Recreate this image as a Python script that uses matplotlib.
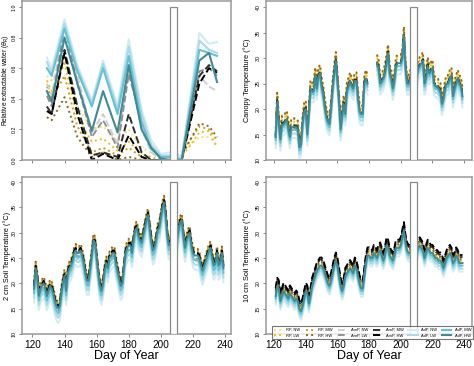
import numpy as np
import matplotlib
matplotlib.use("Agg")
import matplotlib.pyplot as plt
from matplotlib.lines import Line2D
from matplotlib.patches import Rectangle

plt.rcParams['font.family'] = ['Liberation Sans', 'DejaVu Sans']

# treatments: RP / AmP / AdP, each with NW, LW, MW, HW
labels = ["RP, NW", "RP, LW", "RP, MW", "RP, HW",
          "AmP, NW", "AmP, LW", "AmP, MW", "AmP, HW",
          "AdP, NW", "AdP, LW", "AdP, MW", "AdP, HW"]
colors = ["#f2e07a", "#e8c21c", "#d09a1c", "#8a6a1a",
          "#cccccc", "#8c8c8c", "#2e2e2e", "#000000",
          "#d3ecf3", "#a8dbe8", "#66c1d2", "#3f8a94"]
styles = [":", ":", ":", ":",
          "--", "--", "--", "--",
          "-", "-", "-", "-"]
widths = [1.4, 1.4, 1.4, 1.4,
          1.3, 1.3, 1.4, 1.4,
          1.5, 1.5, 1.5, 1.5]

# relative extractable water, measurement days
rew_days = [129, 132, 140, 148, 157, 164, 173, 180, 188, 194, 200, 206, 213, 224, 230, 235]
rew = [
    [0.55, 0.52, 0.65, 0.35, 0.20, 0.22, 0.12, 0.20, 0.08, 0.05, 0.02, 0.00, 0.05, 0.15, 0.15, 0.10],
    [0.52, 0.45, 0.63, 0.28, 0.12, 0.14, 0.06, 0.12, 0.04, 0.02, 0.00, 0.00, 0.02, 0.18, 0.19, 0.08],
    [0.48, 0.40, 0.55, 0.22, 0.05, 0.08, 0.03, 0.08, 0.02, 0.00, 0.00, 0.00, 0.05, 0.22, 0.20, 0.13],
    [0.28, 0.26, 0.41, 0.15, 0.02, 0.05, 0.00, 0.02, 0.00, 0.00, 0.00, 0.00, 0.03, 0.24, 0.22, 0.15],
    [0.50, 0.42, 0.90, 0.55, 0.18, 0.30, 0.10, 0.60, 0.20, 0.05, 0.00, 0.00, 0.00, 0.55, 0.48, 0.45],
    [0.42, 0.35, 0.88, 0.50, 0.15, 0.26, 0.08, 0.56, 0.25, 0.10, 0.00, 0.00, 0.00, 0.58, 0.60, 0.55],
    [0.35, 0.30, 0.72, 0.35, 0.03, 0.05, 0.02, 0.30, 0.05, 0.00, 0.00, 0.00, 0.00, 0.55, 0.62, 0.58],
    [0.32, 0.30, 0.70, 0.30, 0.00, 0.04, 0.00, 0.16, 0.02, 0.00, 0.00, 0.00, 0.00, 0.50, 0.60, 0.57],
    [0.67, 0.60, 0.92, 0.62, 0.39, 0.65, 0.36, 0.79, 0.33, 0.13, 0.04, 0.05, 0.02, 0.83, 0.76, 0.77],
    [0.64, 0.57, 0.89, 0.60, 0.37, 0.63, 0.33, 0.74, 0.30, 0.10, 0.03, 0.03, 0.01, 0.78, 0.72, 0.70],
    [0.60, 0.55, 0.86, 0.58, 0.35, 0.60, 0.30, 0.68, 0.25, 0.07, 0.02, 0.02, 0.00, 0.72, 0.70, 0.68],
    [0.45, 0.38, 0.80, 0.50, 0.19, 0.45, 0.18, 0.62, 0.20, 0.08, 0.01, 0.00, 0.00, 0.65, 0.70, 0.51],
]

days = np.arange(121, 240)

nan = np.nan
canopy_base = [
    14.5, 21.5, 17, 14, 17, 17, 17.5, 18, 16, 14.5,
    16.5, 16.5, 16.5, 16.5, 16, 12.5, 13, 17, 19.5, 20,
    15, 19, 24, 23.5, 23.5, 26.5, 24, 26.5, 27, 24.5,
    23, 20.5, 18.5, 17.5, 17, 20, 24, 27, 29.5, 25.5,
    21.5, 16, 18.5, 21, 19, 23.5, 24.5, 25.5, 24.5, 24,
    25.5, 25.5, 22, 19.5, 19, 19, 25, 26, 25, nan,
    nan, nan, nan, nan, 29, 28, 25, 25.5, 26, 27,
    29, 31, 27, 26, 24, 25.5, 28.5, 29, 29, 29,
    30, 34.5, 28, 25, 25, 26, 26, 26, 26, 26,
    28, 28.5, 29, 29.5, 25, 26, 28.5, 27, 27.5, 28,
    25, 24.5, 24.5, 24, 23.5, 21, 22, 24, 25, 25,
    26, 26.5, 22.5, 24, 25, 26, 25, 24.5, 22.5,
]
soil2_base = [
    19, 23, 21, 17.5, 19, 19.5, 20, 19, 17.5, 18.5,
    19.5, 19, 18, 16.5, 15.5, 15, 15.5, 18, 20, 21.5,
    18.5, 22, 23, 23.5, 24.5, 26, 26.5, 26, 26, 26.5,
    25.5, 24, 22, 20.5, 20.5, 23, 25.5, 28.5, 28, 25,
    22, 19.5, 18.5, 20, 22.5, 24, 23, 25, 25.5, 26,
    26, 24, 22.5, 21, 19.5, 20, 23, 26, 27, 27.5,
    27.5, 26, 28.5, 30.5, 31, 29.5, 28.5, 28, 29.5, 31,
    32.5, 33.5, 31, 28.5, 26.5, 27, 28.5, 30.5, 31, 33,
    35, 36, 33.5, 29.5, 27.5, 28, 27, 28, 29, 28.5,
    30.5, 32, 32.5, 29.5, 27, 28.5, 29.5, 30, 27.5, 26,
    25.5, 25.5, 25.5, 25, 23.5, 22.5, 23.5, 24.5, 25.5, 26.5,
    27, 25, 23.5, 24, 26, 23.5, 24, 26, 23,
]
soil10_base = [
    17.5, 19.5, 19, 16.5, 17.5, 18.5, 18, 17.5, 17, 18,
    17.5, 17, 16.5, 17, 16.5, 15, 14.5, 15.5, 17, 18.5,
    18, 16, 17.5, 19.5, 20.5, 21.5, 22.5, 23, 23.5, 23.5,
    23, 22, 21, 20, 19.5, 20.5, 22, 23.5, 24.5, 23.5,
    21.5, 19.5, 18.5, 19.5, 21.5, 22, 22.5, 23, 22.5, 22,
    23.5, 23, 21.5, 20, 19, 19, 21.5, 24, 25.5, 25.5,
    25, 25, 26, 25.5, 25, 26, 26.5, 25.5, 24.5, 25.5,
    27.5, 27, 25.5, 25, 24.5, 25.5, 27, 27, 27, 27.5,
    29, 30.5, 28, 26.5, 26, 26, 26, 26, 26, 26,
    27, 27.5, 27, 26.5, 25, 26, 27, 26.5, 26, 26,
    25.5, 25, 25, 24.5, 24.5, 24, 23, 24, 25, 25.5,
    26, 25.5, 24, 24.5, 25.5, 25, 24, 24, 24,
]
# treatment offsets from the panel's reference trace (degC)
canopy_off = [0.5, 1.0, 1.5, 1.7, -0.6, -0.3, 0.3, 0.0, -2.2, -1.3, -0.6, 0.0]
soil2_off = [0.3, 0.8, 1.0, 1.3, -1.2, -0.6, 0.3, 0.5, -2.8, -1.8, -0.9, 0.0]
soil10_off = [0.0, 0.3, 0.6, 0.8, -1.0, -0.5, 1.2, 1.6, -1.7, -1.1, -0.5, 0.0]

frame_col = "#9a9a9a"

fig = plt.figure(figsize=(4.74, 3.66), dpi=100)
W, H = 474.0, 366.0
ax_tl = fig.add_axes([22 / W, 1 - 160 / H, 209 / W, 159 / H])
ax_tr = fig.add_axes([266 / W, 1 - 160 / H, 206 / W, 159 / H])
ax_bl = fig.add_axes([22 / W, 1 - 334 / H, 209 / W, 157 / H])
ax_br = fig.add_axes([266 / W, 1 - 334 / H, 206 / W, 157 / H])


def style_axes(ax, xlim, ylim, yticks, yfmt, bottom_labels):
    ax.set_xlim(*xlim)
    ax.set_ylim(*ylim)
    ax.set_xticks(range(120, 241, 20))
    ax.set_yticks(yticks)
    ax.set_yticklabels([yfmt.format(v) for v in yticks], rotation=90, va="center", fontsize=3.8)
    if bottom_labels:
        ax.tick_params(axis="x", labelsize=7.2, pad=1.5)
    else:
        ax.tick_params(axis="x", labelbottom=False)
    ax.tick_params(axis="both", length=2.5, width=0.5, color="#555555", pad=1.5)
    for sp in ax.spines.values():
        sp.set_color(frame_col)
        sp.set_linewidth(1.1)


def draw_rect(ax, y0, y1):
    ax.add_patch(Rectangle((206, y0), 4, y1 - y0, facecolor="white",
                           edgecolor="#8a8a8a", linewidth=0.9, zorder=5))


def place_ylabel(ax, x_px):
    # x_px: right edge of the rotated label, in figure pixels
    pos = ax.get_position()
    ax.yaxis.set_label_coords((x_px - pos.x0 * W) / (pos.width * W), 0.5)


# top left: relative extractable water
for k in range(12):
    ax_tl.plot(rew_days, rew[k], color=colors[k], ls=styles[k], lw=widths[k])
style_axes(ax_tl, (113.5, 243.7), (0, 1.039), [0.0, 0.2, 0.4, 0.6, 0.8, 1.0], "{:.1f}", False)
draw_rect(ax_tl, 0, 1.0)
ax_tl.set_ylabel(r"Relative extractable water ($\theta_R$)", fontsize=4.8)
place_ylabel(ax_tl, 11)

# temperature panels
panels = [
    (ax_tr, canopy_base, canopy_off, (114.9, 245.0), (10, 41.2), "Canopy Temperature (°C)", False, 251),
    (ax_bl, soil2_base, soil2_off, (113.5, 243.7), (10, 41.0), "2 cm Soil Temperature (°C)", True, 11),
    (ax_br, soil10_base, soil10_off, (114.9, 245.0), (10, 41.0), "10 cm Soil Temperature (°C)", True, 251),
]
for ax, base, off, xlim, ylim, ylab, bottom, lab_x in panels:
    base = np.array(base, dtype=float)
    for k in range(12):
        ax.plot(days, base + off[k], color=colors[k], ls=styles[k], lw=widths[k] * 0.95)
    style_axes(ax, xlim, ylim, [10, 15, 20, 25, 30, 35, 40], "{:d}", bottom)
    draw_rect(ax, 10, 40)
    ax.set_ylabel(ylab, fontsize=5.3)
    place_ylabel(ax, lab_x)
    if bottom:
        ax.set_xlabel("Day of Year", fontsize=9, labelpad=0)

handles = [Line2D([0], [0], color=colors[k], ls=styles[k], lw=widths[k]) for k in range(12)]
leg = ax_br.legend(handles, labels, ncol=6, fontsize=2.9, loc="lower left",
                   bbox_to_anchor=(0.02, -0.045), frameon=True, fancybox=False,
                   handlelength=2.3, handletextpad=0.85, columnspacing=1.25,
                   labelspacing=0.35, borderpad=0.4)
leg.get_frame().set_edgecolor("#555555")
leg.get_frame().set_linewidth(0.8)
leg.set_zorder(10)

fig.savefig("out.png", dpi=100)
